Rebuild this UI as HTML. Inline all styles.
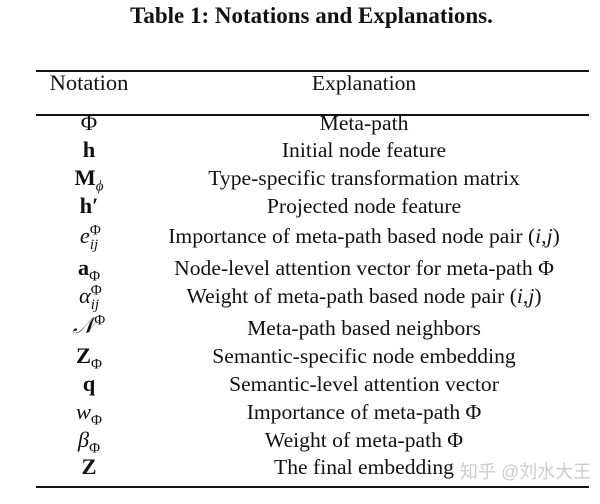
<!DOCTYPE html>
<html><head><style>
body{margin:0;width:600px;height:504px;background:#fff;position:relative;font-family:"Liberation Serif",serif;color:#111;overflow:hidden}
.t{position:absolute;left:0;width:623px;text-align:center;top:3px;font-size:23px;font-weight:bold}
.r{position:absolute;height:2px;background:#111;left:36px;width:553px}
.n,.e{position:absolute;font-size:21.6px;line-height:26px;white-space:nowrap;transform:translate(-50%,-50%)}
.n{left:89px;font-size:22.5px}.e{left:364px}
sub,sup{font-size:15px;line-height:0}
.w{position:absolute;left:460px;top:458px;font-family:"Liberation Sans","Noto Sans CJK SC",sans-serif;font-size:18px;color:#ccc}
</style></head><body>
<div class="t">Table 1: Notations and Explanations.</div>
<div class="r" style="top:70px"></div>
<div class="r" style="top:114px;height:1.5px"></div>
<div class="r" style="top:486px"></div>
<div class="n" style="top:83px">Notation</div><div class="e" style="top:83px">Explanation</div>
<div class="n" style="top:123px">Φ</div><div class="e" style="top:123px">Meta-path</div>
<div class="n" style="top:150px"><b>h</b></div><div class="e" style="top:150px">Initial node feature</div>
<div class="n" style="top:178px"><b>M</b><sub><i>ϕ</i></sub></div><div class="e" style="top:178px">Type-specific transformation matrix</div>
<div class="n" style="top:206px"><b>h′</b></div><div class="e" style="top:206px">Projected node feature</div>
<div class="n" style="top:236px"><i>e</i><sup>Φ</sup><sub style="margin-left:-11px"><i>ij</i></sub></div><div class="e" style="top:236px">Importance of meta-path based node pair (<i>i</i>,<i>j</i>)</div>
<div class="n" style="top:268px"><b>a</b><sub>Φ</sub></div><div class="e" style="top:268px">Node-level attention vector for meta-path Φ</div>
<div class="n" style="top:296px"><i>α</i><sup>Φ</sup><sub style="margin-left:-11px"><i>ij</i></sub></div><div class="e" style="top:296px">Weight of meta-path based node pair (<i>i</i>,<i>j</i>)</div>
<div class="n" style="top:326px"><i>𝒩</i><sup>Φ</sup></div><div class="e" style="top:328px">Meta-path based neighbors</div>
<div class="n" style="top:356px"><b>Z</b><sub>Φ</sub></div><div class="e" style="top:356px">Semantic-specific node embedding</div>
<div class="n" style="top:384px"><b>q</b></div><div class="e" style="top:384px">Semantic-level attention vector</div>
<div class="n" style="top:412px"><i>w</i><sub>Φ</sub></div><div class="e" style="top:412px">Importance of meta-path Φ</div>
<div class="n" style="top:440px"><i>β</i><sub>Φ</sub></div><div class="e" style="top:440px">Weight of meta-path Φ</div>
<div class="n" style="top:467px"><b>Z</b></div><div class="e" style="top:467px">The final embedding</div>
<div class="w">知乎 @刘水大王</div>
</body></html>
